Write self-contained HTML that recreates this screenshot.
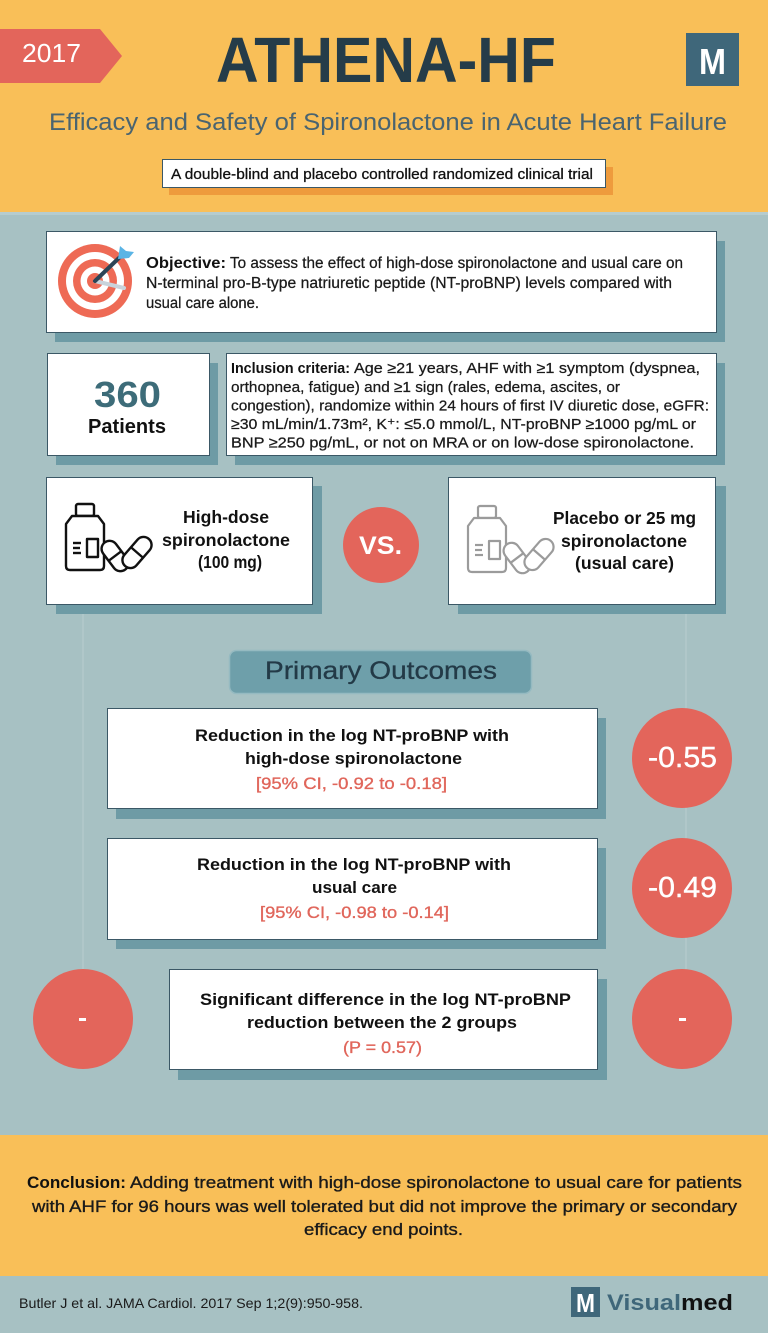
<!DOCTYPE html>
<html>
<head>
<meta charset="utf-8">
<style>
html,body{margin:0;padding:0;background:#A7C1C3;}
svg{display:block;}
text{font-family:"Liberation Sans Narrow","Liberation Sans",sans-serif;}
.b{font-weight:bold;}
.m{stroke:#1a1a1a;stroke-width:0.25;}
</style>
</head>
<body>
<svg width="768" height="1333" viewBox="0 0 768 1333" xmlns="http://www.w3.org/2000/svg">
  <!-- backgrounds -->
  <rect x="0" y="0" width="768" height="1333" fill="#A7C1C3"/>
  <rect x="0" y="0" width="768" height="212" fill="#F9BF58"/>
  <rect x="0" y="212" width="768" height="3" fill="#B6CCCE"/>

  <!-- header -->
  <polygon points="0,29 100,29 122,56 100,83 0,83" fill="#E3655B"/>
  <text x="22" y="62" font-size="26" fill="#ffffff" textLength="59" lengthAdjust="spacingAndGlyphs">2017</text>
  <text x="216" y="82" font-size="64" class="b" fill="#253C49" textLength="340" lengthAdjust="spacingAndGlyphs">ATHENA-HF</text>
  <rect x="686" y="33" width="53" height="53" fill="#3F677A"/>
  <text x="699" y="74" font-size="36" class="b" fill="#ffffff" textLength="27" lengthAdjust="spacingAndGlyphs">M</text>
  <text x="49" y="130" font-size="24" fill="#4A6470" textLength="678" lengthAdjust="spacingAndGlyphs">Efficacy and Safety of Spironolactone in Acute Heart Failure</text>

  <rect x="169" y="167" width="444" height="28" fill="#EE9B3D"/>
  <rect x="162.5" y="159.5" width="443" height="28" fill="#ffffff" stroke="#3B5866" stroke-width="1"/>
  <text x="171" y="179" font-size="15" fill="#111" stroke="#111" stroke-width="0.3" textLength="422" lengthAdjust="spacingAndGlyphs">A double-blind and placebo controlled randomized clinical trial</text>

  <!-- objective -->
  <rect x="55" y="241" width="670" height="101" fill="#6E9BA5"/>
  <rect x="46.5" y="231.5" width="670" height="101" fill="#ffffff" stroke="#3B5866" stroke-width="1"/>
  <circle cx="95" cy="281" r="37" fill="#EE6A55"/>
  <circle cx="95" cy="281" r="29" fill="#ffffff"/>
  <circle cx="95" cy="281" r="22" fill="#EE6A55"/>
  <circle cx="95" cy="281" r="14.5" fill="#ffffff"/>
  <circle cx="95" cy="281" r="8" fill="#EE6A55"/>
  <line x1="95" y1="281" x2="124" y2="288" stroke="#C9D3DB" stroke-width="4" stroke-linecap="round"/>
  <line x1="95" y1="281" x2="121" y2="256" stroke="#2C4456" stroke-width="4" stroke-linecap="round"/>
  <polygon points="118,259 120,246 126,251 134,252 129,258" fill="#5AB4E5"/>
  <text x="146" y="268" font-size="15.5" class="b" fill="#111" textLength="80" lengthAdjust="spacingAndGlyphs">Objective:</text>
  <text x="230" y="268" font-size="15.5" fill="#1a1a1a" class="m" textLength="453" lengthAdjust="spacingAndGlyphs">To assess the effect of high-dose spironolactone and usual care on</text>
  <text x="146" y="288" font-size="15.5" fill="#1a1a1a" class="m" textLength="526" lengthAdjust="spacingAndGlyphs">N-terminal pro-B-type natriuretic peptide (NT-proBNP) levels compared with</text>
  <text x="146" y="308" font-size="15.5" fill="#1a1a1a" class="m" textLength="113" lengthAdjust="spacingAndGlyphs">usual care alone.</text>

  <!-- 360 patients -->
  <rect x="56" y="363" width="162" height="102" fill="#6E9BA5"/>
  <rect x="47.5" y="353.5" width="162" height="102" fill="#ffffff" stroke="#3B5866" stroke-width="1"/>
  <text x="94" y="407" font-size="36" class="b" fill="#3D6C79" textLength="67" lengthAdjust="spacingAndGlyphs">360</text>
  <text x="88" y="433" font-size="20" class="b" fill="#111" textLength="78" lengthAdjust="spacingAndGlyphs">Patients</text>

  <!-- inclusion -->
  <rect x="235" y="363" width="490" height="102" fill="#6E9BA5"/>
  <rect x="226.5" y="353.5" width="490" height="102" fill="#ffffff" stroke="#3B5866" stroke-width="1"/>
  <text x="231" y="373" font-size="15" class="b" fill="#111" textLength="119" lengthAdjust="spacingAndGlyphs">Inclusion criteria:</text>
  <text x="354" y="373" font-size="15" fill="#1a1a1a" class="m" textLength="346" lengthAdjust="spacingAndGlyphs">Age ≥21 years, AHF with ≥1 symptom (dyspnea,</text>
  <text x="231" y="392" font-size="15" fill="#1a1a1a" class="m" textLength="389" lengthAdjust="spacingAndGlyphs">orthopnea, fatigue) and ≥1 sign (rales, edema, ascites, or</text>
  <text x="231" y="410.5" font-size="15" fill="#1a1a1a" class="m" textLength="478" lengthAdjust="spacingAndGlyphs">congestion), randomize within 24 hours of first IV diuretic dose, eGFR:</text>
  <text x="231" y="429" font-size="15" fill="#1a1a1a" class="m" textLength="465" lengthAdjust="spacingAndGlyphs">≥30 mL/min/1.73m², K⁺: ≤5.0 mmol/L,  NT-proBNP ≥1000 pg/mL or</text>
  <text x="231" y="447.5" font-size="15" fill="#1a1a1a" class="m" textLength="463" lengthAdjust="spacingAndGlyphs">BNP ≥250 pg/mL, or not on MRA or on low-dose spironolactone.</text>

  <!-- connector lines -->
  <line x1="83" y1="605" x2="83" y2="970" stroke="#BACDCF" stroke-width="1"/>
  <line x1="686" y1="605" x2="686" y2="970" stroke="#BACDCF" stroke-width="1"/>

  <!-- arms -->
  <rect x="56" y="486" width="266" height="128" fill="#6E9BA5"/>
  <rect x="46.5" y="477.5" width="266" height="127" fill="#ffffff" stroke="#3B5866" stroke-width="1"/>
  <rect x="458" y="486" width="268" height="128" fill="#6E9BA5"/>
  <rect x="448.5" y="477.5" width="267" height="127" fill="#ffffff" stroke="#3B5866" stroke-width="1"/>

  <g fill="#ffffff" stroke="#111" stroke-width="2.4" stroke-linejoin="round">
    <rect x="76" y="504" width="18" height="12" rx="2"/>
    <path d="M72,516 H98 L104,524 V566 Q104,570 100,570 H70 Q66,570 66,566 V524 Z"/>
    <rect x="87" y="539" width="11" height="18"/>
    <line x1="73" y1="543" x2="81" y2="543"/>
    <line x1="73" y1="548" x2="80" y2="548"/>
    <line x1="73" y1="553" x2="81" y2="553"/>
    <g transform="translate(115,556) rotate(53)">
      <rect x="-17" y="-8" width="34" height="16" rx="8"/>
      <line x1="0" y1="-8" x2="0" y2="8"/>
    </g>
    <g transform="translate(137,552.5) rotate(-49)">
      <rect x="-18" y="-8" width="36" height="16" rx="8"/>
      <line x1="0" y1="-8" x2="0" y2="8"/>
    </g>
  </g>
  <g transform="translate(402,2)" fill="#ffffff" stroke="#9B9B9B" stroke-width="2.2" stroke-linejoin="round">
    <rect x="76" y="504" width="18" height="12" rx="2"/>
    <path d="M72,516 H98 L104,524 V566 Q104,570 100,570 H70 Q66,570 66,566 V524 Z"/>
    <rect x="87" y="539" width="11" height="18"/>
    <line x1="73" y1="543" x2="81" y2="543"/>
    <line x1="73" y1="548" x2="80" y2="548"/>
    <line x1="73" y1="553" x2="81" y2="553"/>
    <g transform="translate(115,556) rotate(53)">
      <rect x="-17" y="-8" width="34" height="16" rx="8"/>
      <line x1="0" y1="-8" x2="0" y2="8"/>
    </g>
    <g transform="translate(137,552.5) rotate(-49)">
      <rect x="-18" y="-8" width="36" height="16" rx="8"/>
      <line x1="0" y1="-8" x2="0" y2="8"/>
    </g>
  </g>

  <text x="183" y="523" font-size="17.5" class="b" fill="#111" textLength="86" lengthAdjust="spacingAndGlyphs">High-dose</text>
  <text x="162" y="546" font-size="17.5" class="b" fill="#111" textLength="128" lengthAdjust="spacingAndGlyphs">spironolactone</text>
  <text x="198" y="568" font-size="17.5" class="b" fill="#111" textLength="64" lengthAdjust="spacingAndGlyphs">(100 mg)</text>

  <text x="553" y="524" font-size="17.5" class="b" fill="#111" textLength="143" lengthAdjust="spacingAndGlyphs">Placebo or 25 mg</text>
  <text x="561" y="547" font-size="17.5" class="b" fill="#111" textLength="126" lengthAdjust="spacingAndGlyphs">spironolactone</text>
  <text x="575" y="569" font-size="17.5" class="b" fill="#111" textLength="99" lengthAdjust="spacingAndGlyphs">(usual care)</text>

  <circle cx="381" cy="545" r="38" fill="#E3655B"/>
  <text x="359" y="554" font-size="25" class="b" fill="#ffffff" textLength="43" lengthAdjust="spacingAndGlyphs">VS.</text>

  <!-- primary outcomes tab -->
  <rect x="229.5" y="650.5" width="302" height="43" rx="7" fill="#6E9FAA" stroke="#95BAC1" stroke-width="1.5"/>
  <text x="265" y="679" font-size="25" fill="#233A47" stroke="#233A47" stroke-width="0.3" textLength="232" lengthAdjust="spacingAndGlyphs">Primary Outcomes</text>

  <!-- outcome 1 -->
  <rect x="116" y="718" width="490" height="101" fill="#6E9BA5"/>
  <rect x="107.5" y="708.5" width="490" height="100" fill="#ffffff" stroke="#3B5866" stroke-width="1"/>
  <text x="195" y="741" font-size="17" class="b" fill="#111" textLength="314" lengthAdjust="spacingAndGlyphs">Reduction  in the log NT-proBNP with</text>
  <text x="245" y="764" font-size="17" class="b" fill="#111" textLength="217" lengthAdjust="spacingAndGlyphs">high-dose spironolactone</text>
  <text x="256" y="789" font-size="17" fill="#E0665B" stroke="#E0665B" stroke-width="0.35" textLength="191" lengthAdjust="spacingAndGlyphs">[95% CI, -0.92 to -0.18]</text>
  <circle cx="682" cy="758" r="50" fill="#E3655B"/>
  <text x="648" y="767" font-size="29" fill="#ffffff" stroke="#ffffff" stroke-width="0.4" textLength="69" lengthAdjust="spacingAndGlyphs">-0.55</text>

  <!-- outcome 2 -->
  <rect x="116" y="848" width="490" height="101" fill="#6E9BA5"/>
  <rect x="107.5" y="838.5" width="490" height="101" fill="#ffffff" stroke="#3B5866" stroke-width="1"/>
  <text x="197" y="870" font-size="17" class="b" fill="#111" textLength="314" lengthAdjust="spacingAndGlyphs">Reduction  in the log NT-proBNP with</text>
  <text x="312" y="893" font-size="17" class="b" fill="#111" textLength="85" lengthAdjust="spacingAndGlyphs">usual care</text>
  <text x="260" y="918" font-size="17" fill="#E0665B" stroke="#E0665B" stroke-width="0.35" textLength="189" lengthAdjust="spacingAndGlyphs">[95% CI, -0.98 to -0.14]</text>
  <circle cx="682" cy="888" r="50" fill="#E3655B"/>
  <text x="648" y="897" font-size="29" fill="#ffffff" stroke="#ffffff" stroke-width="0.4" textLength="69" lengthAdjust="spacingAndGlyphs">-0.49</text>

  <!-- outcome 3 -->
  <rect x="178" y="979" width="429" height="101" fill="#6E9BA5"/>
  <rect x="169.5" y="969.5" width="428" height="100" fill="#ffffff" stroke="#3B5866" stroke-width="1"/>
  <text x="200" y="1005" font-size="17" class="b" fill="#111" textLength="371" lengthAdjust="spacingAndGlyphs">Significant difference in the log NT-proBNP</text>
  <text x="247" y="1028" font-size="17" class="b" fill="#111" textLength="270" lengthAdjust="spacingAndGlyphs">reduction between the 2 groups</text>
  <text x="343" y="1053" font-size="17" fill="#E0665B" stroke="#E0665B" stroke-width="0.35" textLength="79" lengthAdjust="spacingAndGlyphs">(P = 0.57)</text>
  <circle cx="83" cy="1019" r="50" fill="#E3655B"/>
  <circle cx="682" cy="1019" r="50" fill="#E3655B"/>
  <rect x="79" y="1018" width="7" height="3" fill="#ffffff"/>
  <rect x="679" y="1018" width="7" height="3" fill="#ffffff"/>

  <!-- conclusion -->
  <rect x="0" y="1135" width="768" height="141" fill="#F9BF58"/>
  <text x="27" y="1188" font-size="17" class="b" fill="#111" textLength="99" lengthAdjust="spacingAndGlyphs">Conclusion:</text>
  <text x="130" y="1188" font-size="17" fill="#1a1a1a" stroke="#1a1a1a" stroke-width="0.35" textLength="612" lengthAdjust="spacingAndGlyphs">Adding treatment with high-dose spironolactone to usual care for patients</text>
  <text x="32" y="1212" font-size="17" fill="#1a1a1a" stroke="#1a1a1a" stroke-width="0.35" textLength="705" lengthAdjust="spacingAndGlyphs">with AHF for 96 hours was well tolerated but did not improve the primary or secondary</text>
  <text x="304" y="1235" font-size="17" fill="#1a1a1a" stroke="#1a1a1a" stroke-width="0.35" textLength="159" lengthAdjust="spacingAndGlyphs">efficacy end points.</text>

  <!-- footer -->
  <text x="19" y="1308" font-size="14" fill="#1a1a1a" textLength="344" lengthAdjust="spacingAndGlyphs">Butler J et al. JAMA Cardiol. 2017 Sep 1;2(9):950-958.</text>
  <rect x="571" y="1287" width="29" height="30" fill="#3F677A"/>
  <text x="576" y="1312" font-size="26" class="b" fill="#ffffff" textLength="19" lengthAdjust="spacingAndGlyphs">M</text>
  <text x="607" y="1310" font-size="22" class="b" fill="#3F677A" textLength="74" lengthAdjust="spacingAndGlyphs">Visual</text>
  <text x="681" y="1310" font-size="22" class="b" fill="#111" textLength="52" lengthAdjust="spacingAndGlyphs">med</text>
</svg>
</body>
</html>
